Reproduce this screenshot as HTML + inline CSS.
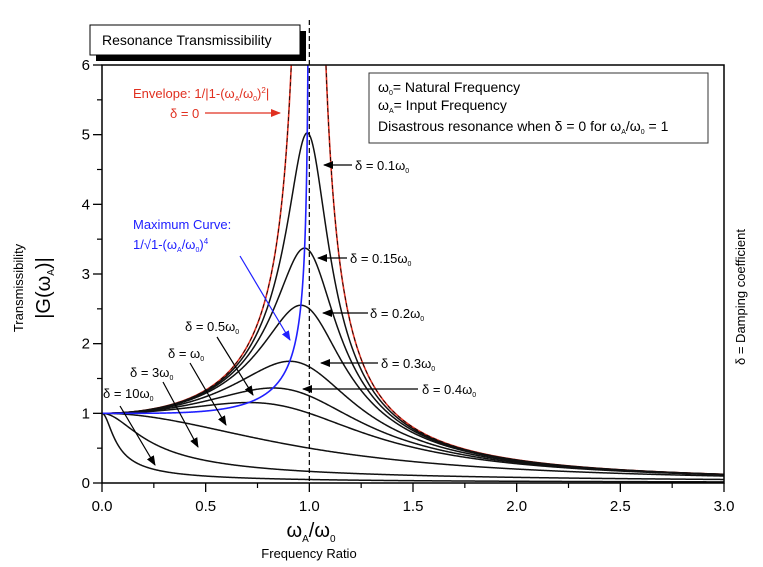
<!DOCTYPE html>
<html><head><meta charset="utf-8"><style>
body{margin:0;background:#fff;}
svg{display:block;font-family:"Liberation Sans",Arial,sans-serif;}
</style></head><body>
<svg id="chart" width="763" height="567" viewBox="0 0 763 567" xmlns="http://www.w3.org/2000/svg">
<defs>
<marker id="ak" markerWidth="10" markerHeight="8" refX="9" refY="4" orient="auto" markerUnits="userSpaceOnUse"><path d="M0,0 L10,4 L0,8 Z" fill="#000"/></marker>
<marker id="ar" markerWidth="10" markerHeight="8" refX="9" refY="4" orient="auto" markerUnits="userSpaceOnUse"><path d="M0,0 L10,4 L0,8 Z" fill="#e03020"/></marker>
<marker id="ab" markerWidth="10" markerHeight="8" refX="9" refY="4" orient="auto" markerUnits="userSpaceOnUse"><path d="M0,0 L10,4 L0,8 Z" fill="#2020ff"/></marker>
<clipPath id="plotclip"><rect x="102" y="65" width="622" height="419"/></clipPath>
</defs>
<g id="curves" clip-path="url(#plotclip)"></g>
<g id="axes"></g>

<rect x="96" y="31" width="210" height="30" fill="#000"/>
<rect x="90" y="25" width="210" height="30" fill="#fff" stroke="#000" stroke-width="1"/>
<text x="102" y="45" font-size="14">Resonance Transmissibility</text>

<rect x="369" y="73" width="339" height="70" fill="#fff" stroke="#333" stroke-width="1"/>
<text x="378" y="92" font-size="14">ω<tspan font-size="7" dy="3">0</tspan><tspan dy="-3">= Natural Frequency</tspan></text>
<text x="378" y="110" font-size="14">ω<tspan font-size="7" dy="3">A</tspan><tspan dy="-3">= Input Frequency</tspan></text>
<text x="378" y="131" font-size="14">Disastrous  resonance when δ = 0 for ω<tspan font-size="7" dy="3">A</tspan><tspan dy="-3">/ω</tspan><tspan font-size="7" dy="3">0</tspan><tspan dy="-3"> = 1</tspan></text>

<text x="133" y="98" font-size="13" fill="#e03020">Envelope: 1/|1-(ω<tspan font-size="7" dy="3">A</tspan><tspan dy="-3">/ω</tspan><tspan font-size="7" dy="3">0</tspan><tspan dy="-3">)</tspan><tspan font-size="8" dy="-5">2</tspan><tspan dy="5">|</tspan></text>
<text x="170" y="118" font-size="13" fill="#e03020">δ = 0</text>
<line x1="205" y1="113" x2="280" y2="113" stroke="#e03020" stroke-width="1.2" marker-end="url(#ar)"/>

<text x="133" y="229" font-size="13" fill="#2020ff">Maximum Curve:</text>
<text x="133" y="249" font-size="13" fill="#2020ff">1/√1-(ω<tspan font-size="7" dy="3">A</tspan><tspan dy="-3">/ω</tspan><tspan font-size="7" dy="3">0</tspan><tspan dy="-3">)</tspan><tspan font-size="8" dy="-5">4</tspan></text>
<line x1="240" y1="256" x2="290" y2="340" stroke="#2020ff" stroke-width="1.2" marker-end="url(#ab)"/>

<g font-size="13" fill="#000">
<line x1="352" y1="165" x2="324" y2="165" stroke="#000" stroke-width="1.2" marker-end="url(#ak)"/>
<text x="355" y="170">δ = 0.1ω<tspan font-size="7" dy="3">0</tspan></text>
<line x1="347" y1="258" x2="318" y2="258" stroke="#000" stroke-width="1.2" marker-end="url(#ak)"/>
<text x="350" y="263">δ = 0.15ω<tspan font-size="7" dy="3">0</tspan></text>
<line x1="368" y1="313" x2="323" y2="313" stroke="#000" stroke-width="1.2" marker-end="url(#ak)"/>
<text x="370" y="318">δ = 0.2ω<tspan font-size="7" dy="3">0</tspan></text>
<line x1="378" y1="363" x2="321" y2="363" stroke="#000" stroke-width="1.2" marker-end="url(#ak)"/>
<text x="381" y="368">δ = 0.3ω<tspan font-size="7" dy="3">0</tspan></text>
<line x1="418" y1="389" x2="303" y2="389" stroke="#000" stroke-width="1.2" marker-end="url(#ak)"/>
<text x="422" y="394">δ = 0.4ω<tspan font-size="7" dy="3">0</tspan></text>
<text x="185" y="331">δ = 0.5ω<tspan font-size="7" dy="3">0</tspan></text>
<line x1="217" y1="337" x2="253" y2="395" stroke="#000" stroke-width="1.2" marker-end="url(#ak)"/>
<text x="168" y="358">δ = ω<tspan font-size="7" dy="3">0</tspan></text>
<line x1="190" y1="363" x2="226" y2="425" stroke="#000" stroke-width="1.2" marker-end="url(#ak)"/>
<text x="130" y="377">δ = 3ω<tspan font-size="7" dy="3">0</tspan></text>
<line x1="163" y1="382" x2="198" y2="447" stroke="#000" stroke-width="1.2" marker-end="url(#ak)"/>
<text x="103" y="398">δ = 10ω<tspan font-size="7" dy="3">0</tspan></text>
<line x1="120" y1="406" x2="155" y2="465" stroke="#000" stroke-width="1.2" marker-end="url(#ak)"/>
</g>

<text x="23" y="288" font-size="13" text-anchor="middle" transform="rotate(-90 23 288)">Transmissibility</text>
<text x="50" y="288" font-size="20" text-anchor="middle" transform="rotate(-90 50 288)">|G(ω<tspan font-size="10" dy="4">A</tspan><tspan dy="-4">)|</tspan></text>
<text x="311" y="537" font-size="20" text-anchor="middle">ω<tspan font-size="10" dy="5">A</tspan><tspan dy="-5">/ω</tspan><tspan font-size="10" dy="5">0</tspan></text>
<text x="309" y="558" font-size="13" text-anchor="middle">Frequency Ratio</text>
<text x="745" y="297" font-size="13" text-anchor="middle" transform="rotate(-90 745 297)">δ = Damping coefficient</text>
</svg>
<script>
const dampingRatios = [0.1, 0.15, 0.2, 0.3, 0.4, 0.5, 1, 3, 10];
const xTicks = [0, 0.5, 1.0, 1.5, 2.0, 2.5, 3.0];
const xTickLabels = ["0.0", "0.5", "1.0", "1.5", "2.0", "2.5", "3.0"];
const yTicks = [0, 1, 2, 3, 4, 5, 6];
const yTickLabels = ["0", "1", "2", "3", "4", "5", "6"];
const xDomain = [0, 3];
const yDomain = [0, 6];

const NS = "http://www.w3.org/2000/svg";
const X0 = 102, X1 = 724, Y0 = 483, Y1 = 65;
function sx(v){ return X0 + (v - xDomain[0]) / (xDomain[1] - xDomain[0]) * (X1 - X0); }
function sy(v){ return Y0 - (v - yDomain[0]) / (yDomain[1] - yDomain[0]) * (Y0 - Y1); }
function mk(tag, attrs, parent){ const e = document.createElementNS(NS, tag); for (const k in attrs) e.setAttribute(k, attrs[k]); parent.appendChild(e); return e; }
function G(r, d){ return 1 / Math.sqrt(Math.pow(1 - r*r, 2) + Math.pow(2*d*r, 2)); }

const curves = document.getElementById('curves');
const axes = document.getElementById('axes');

function pathFrom(fn, a, b, n){
  let d = "";
  for (let i = 0; i <= n; i++){
    const r = a + (b - a) * i / n;
    let v = fn(r); if (!isFinite(v) || v > 7) v = 7;
    d += (i ? "L" : "M") + sx(r).toFixed(2) + "," + sy(v).toFixed(2);
  }
  return d;
}

const envL = pathFrom(r => 1 / Math.abs(1 - r*r), 0, 0.995, 600);
const envR = pathFrom(r => 1 / Math.abs(1 - r*r), 1.005, 3, 600);
[envL, envR].forEach(function(d, i){
  const p = mk('path', {d: d, fill: 'none', stroke: '#e03020', 'stroke-width': 1.6}, curves);
  
  
  const q = mk('path', {d: d, fill: 'none', stroke: '#000', 'stroke-width': 0.8, 'stroke-dasharray': '4 3'}, curves);
  
  
});

dampingRatios.forEach(function(d){
  const p = mk('path', {d: pathFrom(r => G(r, d), 0, 3, 900), fill: 'none', stroke: '#111', 'stroke-width': 1.5}, curves);
  
  
});

const mx = mk('path', {d: pathFrom(r => 1 / Math.sqrt(1 - Math.pow(r, 4)), 0, 0.9999, 800) + "L" + sx(1).toFixed(2) + "," + sy(7), fill: 'none', stroke: '#2020ff', 'stroke-width': 1.6}, curves);



const vl = mk('line', {x1: sx(1), x2: sx(1), y1: 20, y2: Y0, stroke: '#000', 'stroke-width': 1.2, 'stroke-dasharray': '5 3'}, axes);



const fr = mk('rect', {x: X0, y: Y1, width: X1 - X0, height: Y0 - Y1, fill: 'none', stroke: '#000', 'stroke-width': 1.5}, axes);



for (let i = 0; i < xTicks.length; i++){
  const t = mk('line', {x1: sx(xTicks[i]), x2: sx(xTicks[i]), y1: Y0, y2: Y0 + 9, stroke: '#000', 'stroke-width': 1.3}, axes);
  
  
  const l = mk('text', {x: sx(xTicks[i]), y: Y0 + 28, 'font-size': 15, 'text-anchor': 'middle'}, axes);
  l.textContent = xTickLabels[i];
  
  
  if (i < xTicks.length - 1){
    const m = (xTicks[i] + xTicks[i+1]) / 2;
    const mt = mk('line', {x1: sx(m), x2: sx(m), y1: Y0, y2: Y0 + 5, stroke: '#000', 'stroke-width': 1.2}, axes);
    
    
  }
}
for (let i = 0; i < yTicks.length; i++){
  const t = mk('line', {x1: X0 - 9, x2: X0, y1: sy(yTicks[i]), y2: sy(yTicks[i]), stroke: '#000', 'stroke-width': 1.3}, axes);
  
  
  const l = mk('text', {x: X0 - 12, y: sy(yTicks[i]) + 5, 'font-size': 15, 'text-anchor': 'end'}, axes);
  l.textContent = yTickLabels[i];
  
  
  if (i < yTicks.length - 1){
    const m = (yTicks[i] + yTicks[i+1]) / 2;
    const mt = mk('line', {x1: X0 - 5, x2: X0, y1: sy(m), y2: sy(m), stroke: '#000', 'stroke-width': 1.2}, axes);
    
    
  }
}
</script>
</body></html>
